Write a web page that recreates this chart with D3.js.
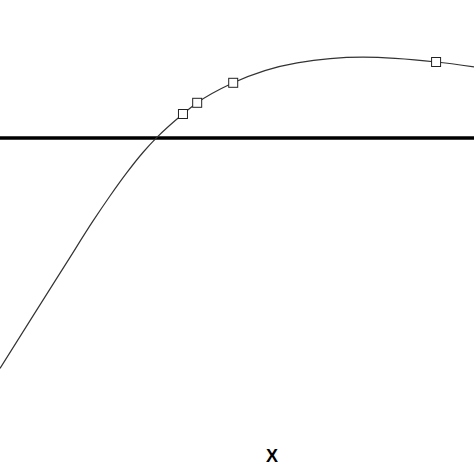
<!DOCTYPE html>
<html>
<head>
<meta charset="utf-8">
<script src="https://cdn.jsdelivr.net/npm/d3@7"></script>
<style>
  html, body { margin: 0; padding: 0; background: #fff; }
  svg { display: block; }
</style>
</head>
<body>
<svg id="chart" width="474" height="474"></svg>
<script>
// Curve samples (x, y)
const curveX = [0, 0.70, 1.41, 1.96, 2.32, 2.68, 3.02, 3.31, 3.86, 4.16, 4.92, 6.27, 7.66, 9.2, 10];
const curveY = [-2.88, -2.22, -1.555, -1.04, -0.725, -0.43, -0.178, 0.007, 0.3, 0.44, 0.69, 0.94, 1.01, 0.95, 0.89];
// Marked points
const markX = [3.86, 4.16, 4.92, 9.2];
const markY = [0.3, 0.44, 0.69, 0.95];
// Reference level
const refLevel = 0;
const xLabel = "X";

const svg = d3.select("#chart");
const W = 474, H = 474;

const x = d3.scaleLinear().domain([0, 10]).range([0, W]);
const y = d3.scaleLinear().domain([-3, 1]).range([378, 58]);

// Reference horizontal line
svg.append("line")
  .attr("x1", x(0)).attr("x2", x(10))
  .attr("y1", y(refLevel)).attr("y2", y(refLevel))
  .attr("stroke", "#000").attr("stroke-width", 3.5);

const pts = curveX.map((v, i) => [v, curveY[i]]);
const line = d3.line().x(d => x(d[0])).y(d => y(d[1])).curve(d3.curveMonotoneX);

svg.append("path")
  .attr("d", line(pts))
  .attr("fill", "none")
  .attr("stroke", "#333")
  .attr("stroke-width", 1.2);

const s = 9;
svg.selectAll("rect.mark")
  .data(markX.map((v, i) => [v, markY[i]]))
  .enter().append("rect")
  .attr("class", "mark")
  .attr("x", d => x(d[0]) - s / 2)
  .attr("y", d => y(d[1]) - s / 2)
  .attr("width", s).attr("height", s)
  .attr("fill", "#fff")
  .attr("stroke", "#222")
  .attr("stroke-width", 1);

svg.append("text")
  .attr("x", 272)
  .attr("y", 462)
  .attr("text-anchor", "middle")
  .attr("font-family", "Liberation Sans, Arial, sans-serif")
  .attr("font-weight", "bold")
  .attr("font-size", 18)
  .text(xLabel);
</script>
</body>
</html>
